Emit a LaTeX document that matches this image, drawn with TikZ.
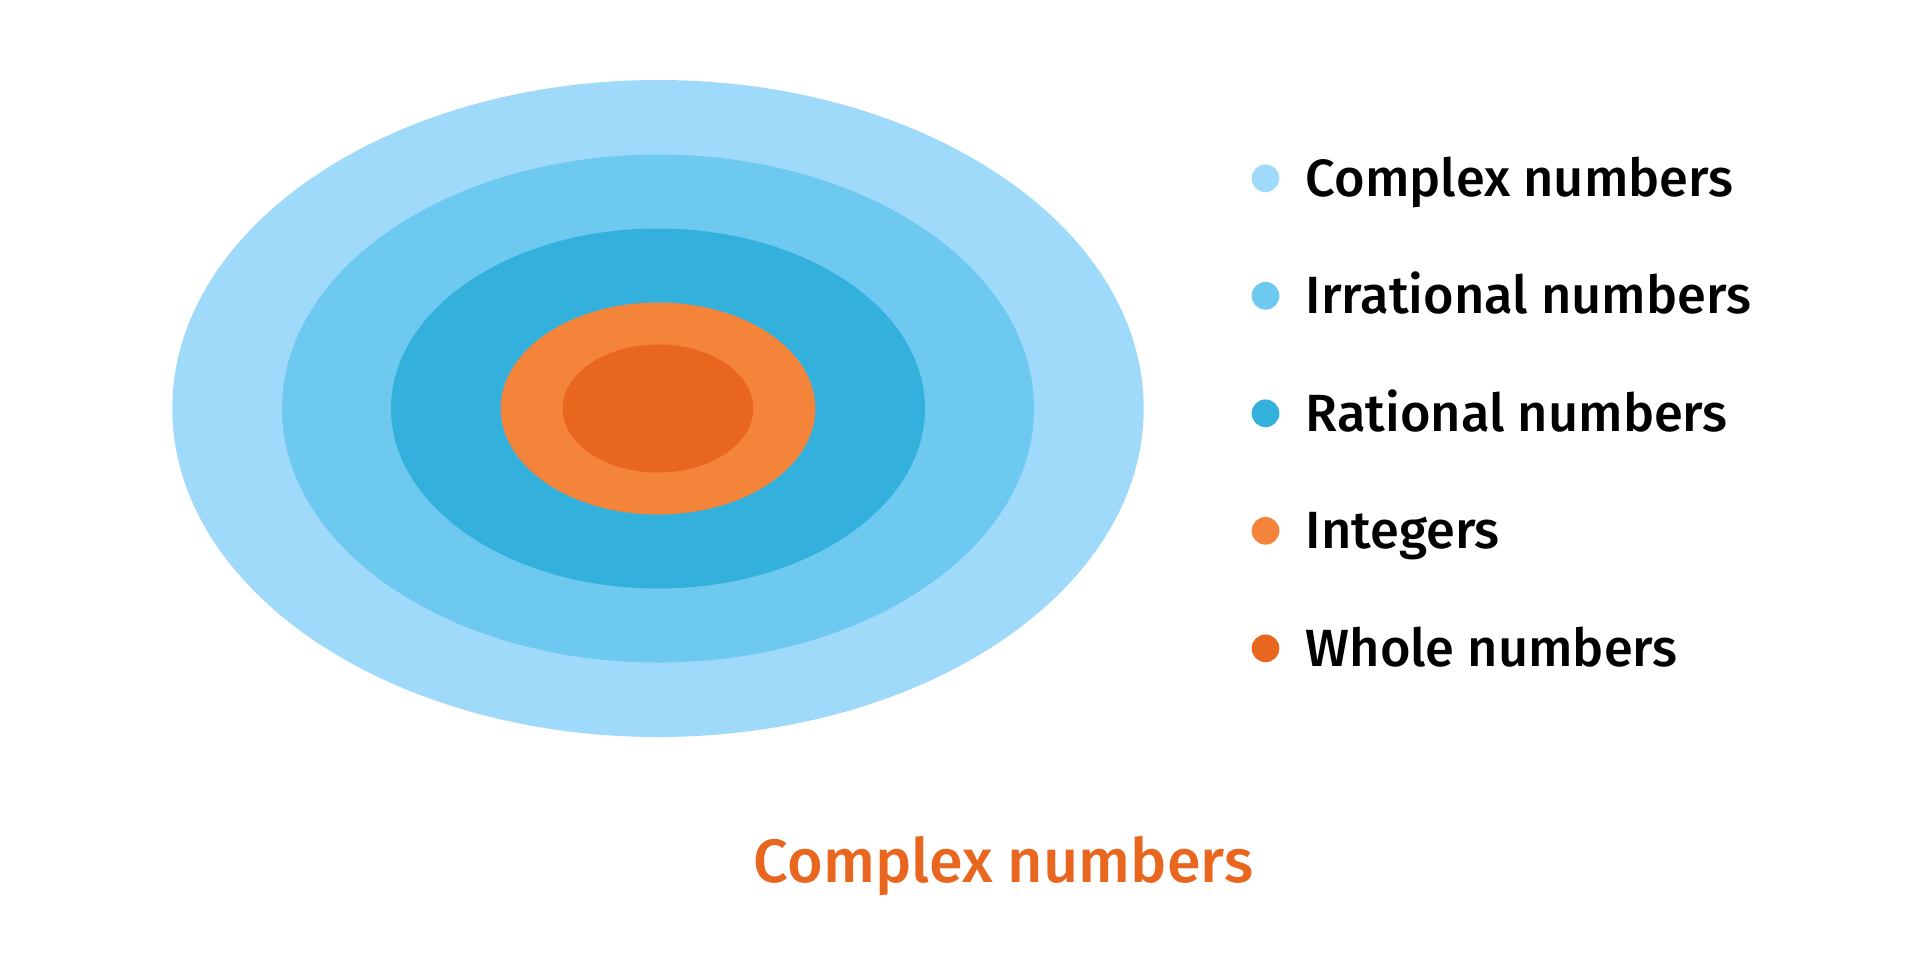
\documentclass[tikz,border=0pt]{standalone}
\usepackage{fontspec}
\setmainfont{Fira Sans}[UprightFont={* Medium}]
\usepackage{tikz}
\usetikzlibrary{positioning}
\definecolor{cxcol}{HTML}{A0DAFA}
\definecolor{ircol}{HTML}{6EC9F1}
\definecolor{racol}{HTML}{34B0DC}
\definecolor{incol}{HTML}{F4843A}
\definecolor{whcol}{HTML}{E9661F}
\begin{document}
\begin{tikzpicture}

    \useasboundingbox (0,0) rectangle (19.2,9.6); % fixed page, 2:1

    % nested sets, largest first so the smaller ones lie on top
    \coordinate (c) at (6.58,5.515);
    \fill [cxcol] (c) ellipse [x radius=4.857, y radius=3.285];
    \fill [ircol] (c) ellipse [x radius=3.76,  y radius=2.54];
    \fill [racol] (c) ellipse [x radius=2.67,  y radius=1.80];
    \fill [incol] (c) ellipse [x radius=1.573, y radius=1.06];
    \fill [whcol] (c) ellipse [x radius=0.953, y radius=0.64];

    % legend: a dot and a label per set, stacked down the right side
    \begin{scope}[dot/.style={circle, inner sep=0pt, minimum size=2.77mm},
                  lbl/.style={inner sep=0pt, text height=3.6mm, text depth=0mm,
                              font=\fontsize{14.9}{18}\selectfont},
                  node distance=8.84mm]

    \node [dot, fill=cxcol] (dcx) at (12.655,7.817) {};
    \node [dot, fill=ircol, below=of dcx] (dir) {};
    \node [dot, fill=racol, below=of dir] (dra) {};
    \node [dot, fill=incol, below=of dra] (din) {};
    \node [dot, fill=whcol, below=of din] (dwh) {};

    \node [lbl, right=2.5mm of dcx] (tcx) {Complex numbers};
    \node [lbl, right=2.5mm of dir] (tir) {Irrational numbers};
    \node [lbl, right=2.5mm of dra] (tra) {Rational numbers};
    \node [lbl, right=2.5mm of din] (tin) {Integers};
    \node [lbl, right=2.5mm of dwh] (twh) {Whole numbers};

    \end{scope}

    \node [whcol, inner sep=0pt, text height=4.2mm, text depth=0mm,
           font=\fontsize{17.4}{21}\selectfont] (title) at (10.035,0.983) {Complex numbers};

\end{tikzpicture}
\end{document}
